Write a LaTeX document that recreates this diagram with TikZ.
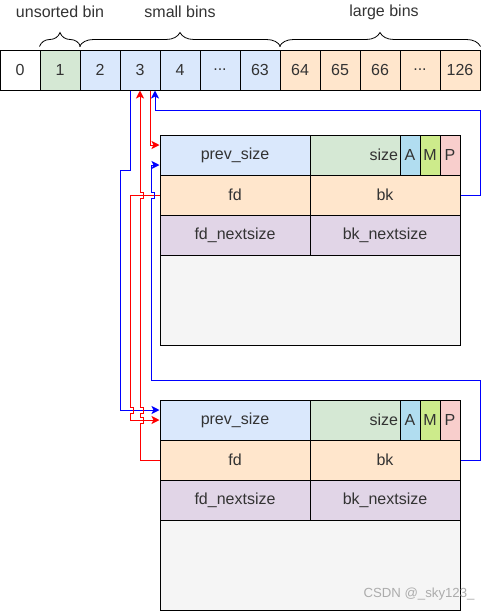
\documentclass[tikz,border=0pt]{standalone}
\usepackage{fontspec}
\setmainfont{Liberation Sans}
\usetikzlibrary{arrows.meta,decorations.pathreplacing,calc}

\definecolor{unsortc}{HTML}{D5E8D4}
\definecolor{smallc}{HTML}{DAE8FC}
\definecolor{largec}{HTML}{FFE6CC}
\definecolor{ac}{HTML}{B1DDF0}
\definecolor{mc}{HTML}{CDEB8B}
\definecolor{pc}{HTML}{F8CECC}
\definecolor{nextc}{HTML}{E1D5E7}
\definecolor{restc}{HTML}{F5F5F5}
\definecolor{txtc}{HTML}{333333}
\definecolor{fdc}{HTML}{FF0000}
\definecolor{bkc}{HTML}{0000FF}

\tikzset{
  cell/.style={draw, line width=1pt, inner sep=0pt, text=txtc,
    font=\fontsize{16}{19}\selectfont, minimum height=40pt},
  lbl/.style={text=txtc, font=\fontsize{16}{19}\selectfont},
  brc/.style={draw, line width=0.8pt, decorate, decoration={brace, amplitude=14pt}},
  fdline/.style={draw=fdc, line width=1pt, -{Stealth[length=8pt,width=8pt,inset=2pt]}},
  bkline/.style={draw=bkc, line width=1pt, -{Stealth[length=8pt,width=8pt,inset=2pt]}}
}

\begin{document}
\begin{tikzpicture}[x=1pt,y=-1pt]
      \useasboundingbox (0,0) rectangle (490,611);
      \def\dd{...}
      % line jumps, going down / going up
      \def\jd#1#2{-- (#1,#2-3) -- (#1+3,#2-3) -- (#1+3,#2+3) -- (#1,#2+3)}
      \def\ju#1#2{-- (#1,#2+3) -- (#1+3,#2+3) -- (#1+3,#2-3) -- (#1,#2-3)}
      \def\bins{
        \foreach \t/\c [count=\i from 0] in {0/white,1/unsortc,2/smallc,3/smallc,
          4/smallc,\dd/smallc,63/smallc,64/largec,65/largec,66/largec,\dd/largec,126/largec}
        \node[cell, minimum width=40pt, fill=\c] (b\i) at (20+40*\i,70) {\t};
      }
      \def\braces{
        \draw[brc] ([yshift=3pt]b1.north west) -- ([yshift=3pt]b1.north east);
        \draw[brc] ([yshift=3pt]b2.north west) -- ([yshift=3pt]b6.north east);
        \draw[brc] ([yshift=3pt]b7.north west) -- ([yshift=3pt]b11.north east);
        \node[lbl] (unsorted) at (60,12) {unsorted bin};
        \node[lbl] (small) at (180,12) {small bins};
        \node[lbl] (large) at (384,12) {large bins};
      }
      \def\chunk#1#2{
        \node[cell, minimum width=150pt, fill=smallc] (#1prev) at (235,#2+20) {prev\_size};
        \node[cell, minimum width=90pt, text width=86pt, align=right, fill=unsortc] (#1size) at (355,#2+20) {size};
        \node[cell, minimum width=20pt, fill=ac] (#1a) at (410,#2+20) {A};
        \node[cell, minimum width=20pt, fill=mc] (#1m) at (430,#2+20) {M};
        \node[cell, minimum width=20pt, fill=pc] (#1p) at (450,#2+20) {P};
        \node[cell, minimum width=150pt, fill=largec] (#1fd) at (235,#2+60) {fd};
        \node[cell, minimum width=150pt, fill=largec] (#1bk) at (385,#2+60) {bk};
        \node[cell, minimum width=150pt, fill=nextc] (#1fdn) at (235,#2+100) {fd\_nextsize};
        \node[cell, minimum width=150pt, fill=nextc] (#1bkn) at (385,#2+100) {bk\_nextsize};
        \node[cell, minimum width=300pt, minimum height=90pt, fill=restc] (#1rest) at (310,#2+165) {};
      }
      \def\links{
        % bin 3 <-> chunk 1 <-> chunk 2
        \draw[fdline] ([xshift=10pt]b3.south) |- ([yshift=10pt]c1prev.west);
        \draw[bkline] ([xshift=-10pt]b3.south) -- (130,170) -- (120,170) -- (120,410) -- ([yshift=10pt]c2prev.west);
        \draw[fdline] (c1fd.west) -- (130,195) \jd{130}{410} -- (130,420) -- (c2prev.west);
        \draw[fdline] (c2fd.west) -- (140,460) \ju{140}{420} \ju{140}{410} \ju{140}{195} -- (b3.south);
        \draw[bkline] (c1bk.east) -- (480,195) -- (480,110) -- (155,110) -- ([xshift=15pt]b3.south);
        \draw[bkline] (c2bk.east) -- (480,460) -- (480,380) -- (151,380) \ju{151}{195} -- (151,165) -- ([yshift=-10pt]c1prev.west);
      }
      \bins
      \braces
      \chunk{c1}{135}
      \chunk{c2}{400}
      \links
      \node[text=gray!65, font=\fontsize{13.2}{15}\selectfont] (mark) at (419,594) {CSDN @\_sky123\_};
\end{tikzpicture}
\end{document}
